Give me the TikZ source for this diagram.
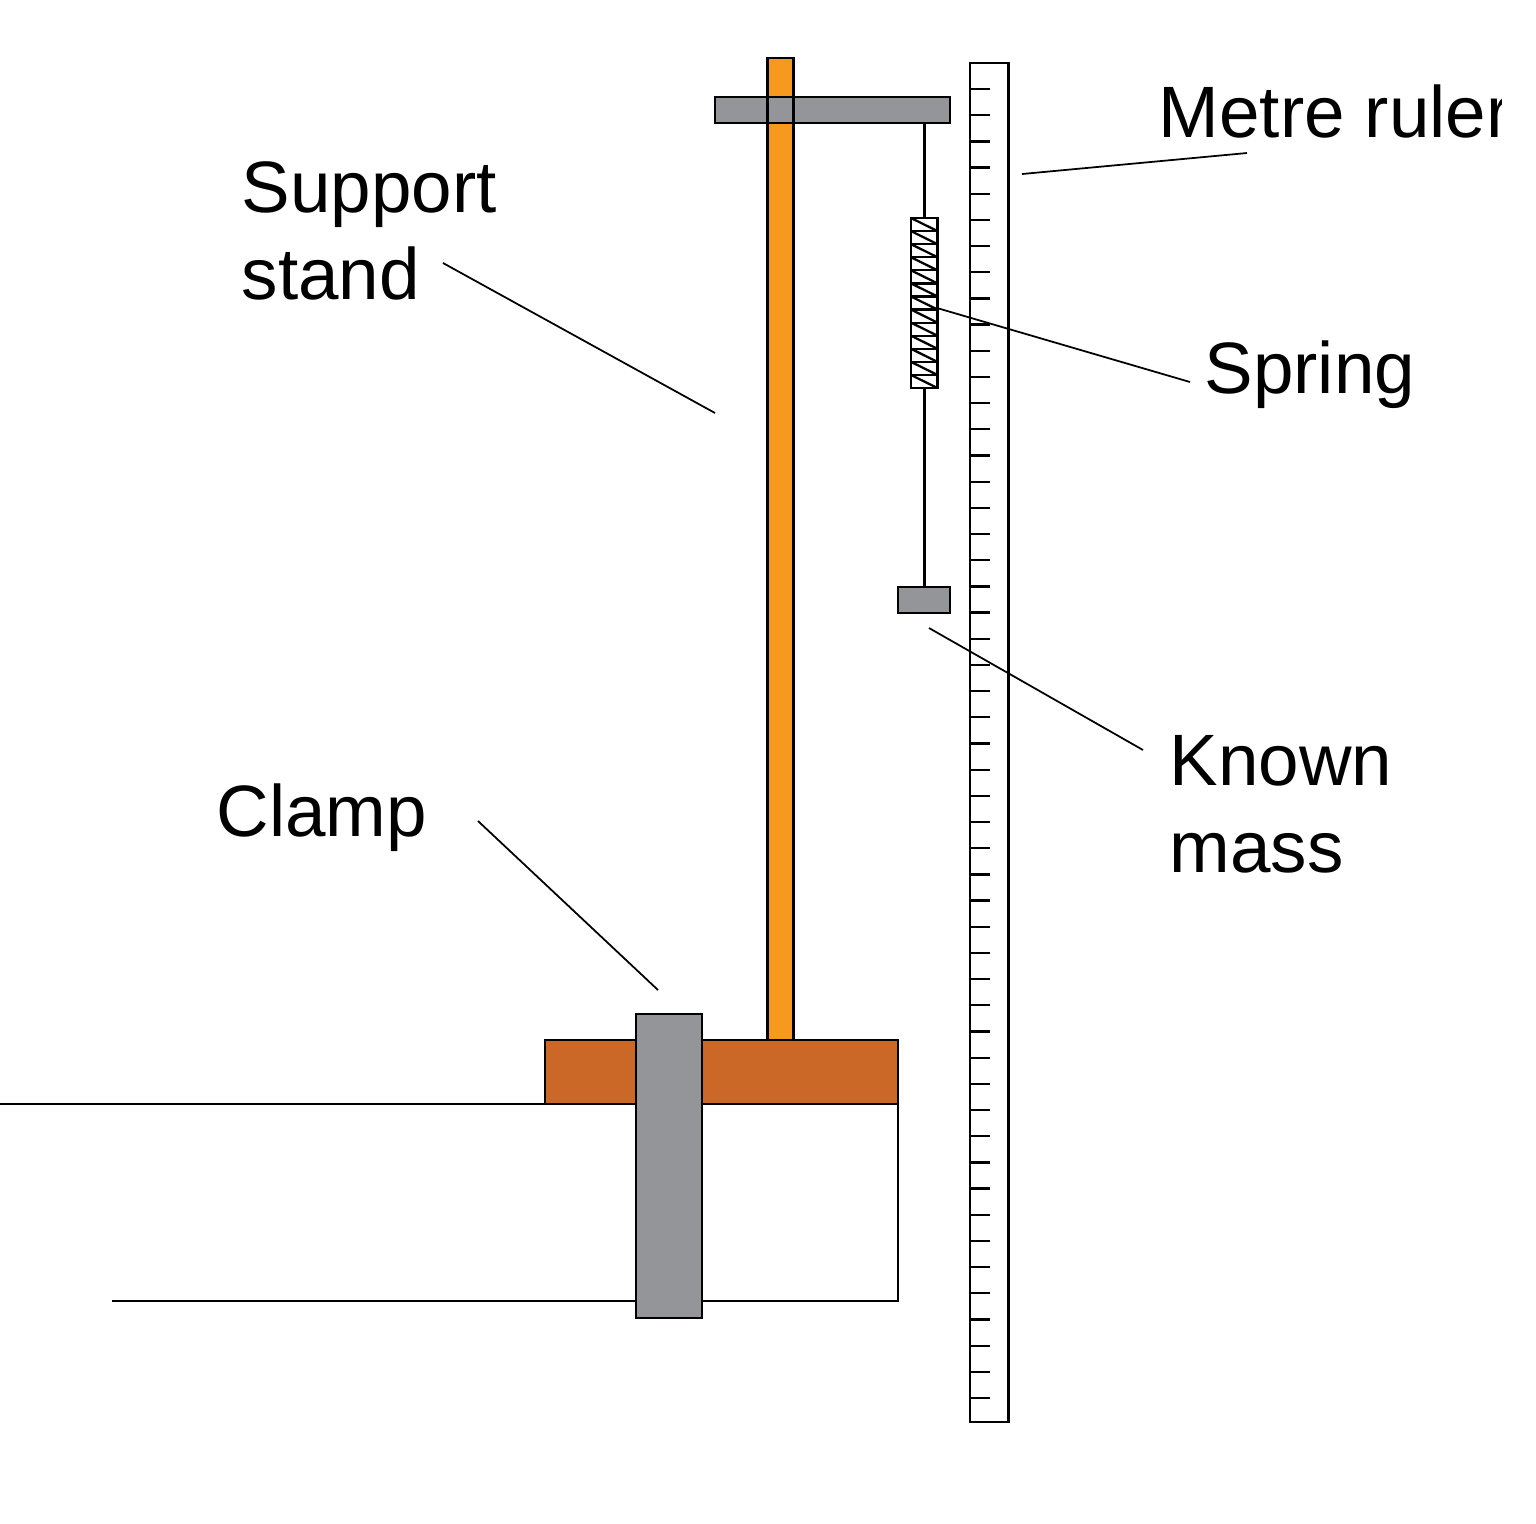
\documentclass[tikz,border=0pt]{standalone}
\usepackage{fontspec}
\setmainfont{Liberation Sans}
\definecolor{rodorange}{HTML}{F7991D}
\definecolor{partgrey}{HTML}{939598}
\definecolor{basebrown}{HTML}{CB6828}
\tikzset{
    part/.style={draw=black,line width=0.65pt},
    leader/.style={draw=black,line width=0.5pt},
    label/.style={anchor=base west,inner sep=0pt,align=left,font=\fontsize{20.7}{24.7}\selectfont}
}
\begin{document}
\begin{tikzpicture}[x=0.01cm,y=-0.01cm]
    \useasboundingbox (0,0) rectangle (1536,1523);

    % table and stand
    \draw[part] (0,1104) -- (898,1104) -- (898,1301) -- (112,1301);
    \filldraw[part,fill=rodorange] (767.5,58) rectangle (793.5,1040);
    \filldraw[part,fill=basebrown] (545,1040) rectangle (898,1104);
    \filldraw[part,fill=partgrey] (636,1014) rectangle (702,1318);

    % arm, the rod shows through it
    \filldraw[part,fill=partgrey] (715,97) rectangle (950,123);
    \draw[part] (767.5,97) -- (767.5,123);
    \draw[part] (793.5,97) -- (793.5,123);

    % spring and mass
    \draw[part] (924.5,123) -- (924.5,587);
    \filldraw[part,fill=white] (911,218) rectangle (937.5,388);
    \foreach \i in {0,...,12} {
        \draw[part] (911,218+13.08*\i) -- (937.5,218+13.08*\i+13.08);
        \draw[part] (911,218+13.08*\i) -- (937.5,218+13.08*\i);
    }
    \filldraw[part,fill=partgrey] (898,587) rectangle (950,613);

    % ruler
    \draw[part] (970,63) rectangle (1008.5,1422);
    \foreach \i in {0,...,50} {
        \draw[part] (970,89+26.18*\i) -- (990,89+26.18*\i);
    }

    % labels
    \begin{scope}
        \clip (1100,40) rectangle (1501,180);
        \node[label] (ruler) at (1158,137) {Metre ruler};
    \end{scope}
    \node[label] (stand) at (241,299) {Support\\stand};
    \node[label] (spring) at (1204,393) {Spring};
    \node[label] (mass) at (1169,872) {Known\\mass};
    \node[label] (clamp) at (216,836) {Clamp};

    % leader lines
    \coordinate (rulerA) at (1247,153);
    \coordinate (rulerB) at (1022,174);
    \coordinate (standA) at (443,263);
    \coordinate (standB) at (715,413);
    \coordinate (springA) at (1190,382);
    \coordinate (springB) at (937,308);
    \coordinate (massA) at (1143,750);
    \coordinate (massB) at (929,628);
    \coordinate (clampA) at (478,821);
    \coordinate (clampB) at (658,990);
    \draw[leader] (rulerA) -- (rulerB);
    \draw[leader] (standA) -- (standB);
    \draw[leader] (springA) -- (springB);
    \draw[leader] (massA) -- (massB);
    \draw[leader] (clampA) -- (clampB);
\end{tikzpicture}
\end{document}
